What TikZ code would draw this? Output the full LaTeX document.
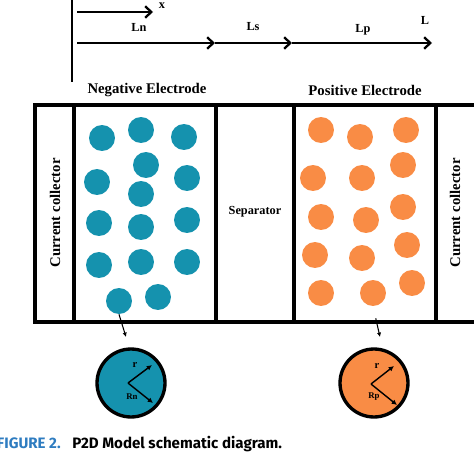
\documentclass[tikz,border=0pt]{standalone}
\usepackage{fontspec}
\setmainfont{Liberation Serif}
\newfontfamily\capfont{Fira Sans}
\usetikzlibrary{positioning,calc,arrows.meta}
\definecolor{negcol}{HTML}{1592AE}
\definecolor{poscol}{HTML}{F98C45}
\definecolor{capblue}{HTML}{2E7CC0}
\begin{document}
\begin{tikzpicture}[
      x=0.02cm, y=-0.02cm,
      axis/.style={-{Straight Barb[length=3.5pt,width=6.5pt]}, line width=1.3pt},
      wall/.style={line width=1.9pt},
      lbl/.style={font=\bfseries\fontsize{7}{8}\selectfont, inner sep=0pt},
      head/.style={font=\bfseries\fontsize{8.4}{10}\selectfont, inner sep=0pt},
      negp/.style={circle, fill=negcol, minimum size=0.52cm, inner sep=0pt},
      posp/.style={circle, fill=poscol, minimum size=0.52cm, inner sep=0pt},
      bigp/.style={circle, draw, line width=1.9pt, minimum size=1.36cm, inner sep=0pt},
      radius/.style={-{Latex[length=3pt,width=3pt]}, line width=0.8pt},
      pick/.style={-{Latex[length=2.5pt,width=2.5pt]}, line width=0.6pt}
    ]
    \useasboundingbox (0,0) rectangle (474,453);
    % axis
    \draw[line width=1.3pt] (72,0) -- (72,82);
    \coordinate (xs) at (77,12);
    \coordinate (xe) at (153,12);
    \coordinate (o) at (77,43);
    \coordinate (ln) at (215,43);
    \coordinate (ls) at (292,43);
    \coordinate (lp) at (432,43);
    \draw[axis] (xs) -- (xe);
    \draw[axis] (o) -- (ln);
    \draw[axis] (ln) -- (ls);
    \draw[axis] (ls) -- (lp);
    \node[lbl] (xlab) at (162,6) {x};
    \node[lbl] (lnlab) at (139,27) {Ln};
    \node[lbl] (lslab) at (253,27) {Ls};
    \node[lbl] (lplab) at (363,30) {Lp};
    \node[lbl] (llab) at (425,20) {L};
    \node[head] (neg) at (147,90) {Negative Electrode};
    \node[head] (pos) at (365,90) {Positive Electrode};
    % cell
    \draw[wall] (35,105) rectangle (480,322);
    \foreach \d in {74,216,294,436}
      \draw[wall] (\d,105) -- (\d,322);
    \node[head, rotate=90] (ccl) at (55,213) {Current collector};
    \node[head, rotate=90] (ccr) at (455,213) {Current collector};
    \node[font=\bfseries\fontsize{7}{8}\selectfont, inner sep=0pt] (sep) at (255,212) {Separator};
    % particles
    \foreach \x/\y [count=\i] in {102/138,141/130,184/137,146/165,97/182,187/178,141/194,
        99/223,141/227,187/220,99/265,141/262,187/262,119/301,158/297}
      \node[negp] (n\i) at (\x,\y) {};
    \foreach \x/\y [count=\i] in {321/130,360/137,406/130,313/178,362/178,403/165,321/217,
        366/220,403/207,315/255,362/258,407/245,321/293,373/293,412/283}
      \node[posp] (p\i) at (\x,\y) {};
    % single particles
    \node[bigp, fill=negcol] (bign) at (131,383) {};
    \node[bigp, fill=poscol] (bigp) at (374,383) {};
    \coordinate (na) at (126,337);
    \coordinate (pa) at (380,337);
    \draw[pick] (n14.south) -- (na);
    \draw[pick, shorten <=7pt] (p14.south) -- (pa);
    \coordinate (nc) at (128,383);
    \coordinate (nr) at (152,365);
    \coordinate (nR) at (153,403);
    \draw[radius] (nc) -- (nr);
    \draw[radius] (nc) -- (nR);
    \node[font=\bfseries\fontsize{6}{7}\selectfont, inner sep=0pt] (nrl) at (135,365) {r};
    \node[font=\bfseries\fontsize{5}{6}\selectfont, inner sep=0pt] (nRl) at (132,397) {Rn};
    \coordinate (pc) at (371,384);
    \coordinate (pr) at (394,366);
    \coordinate (pR) at (397,405);
    \draw[radius] (pc) -- (pr);
    \draw[radius] (pc) -- (pR);
    \node[font=\bfseries\fontsize{6}{7}\selectfont, inner sep=0pt] (prl) at (377,366) {r};
    \node[font=\bfseries\fontsize{5}{6}\selectfont, inner sep=0pt] (pRl) at (374,397) {Rp};
    % caption
    \node[font=\capfont\bfseries\fontsize{8.6}{10}\selectfont, anchor=base west, inner sep=0pt] (cap) at (72,448) {P2D Model schematic diagram.};
    \node[font=\capfont\bfseries\fontsize{8.6}{10}\selectfont, text=capblue, anchor=base east, inner sep=0pt] (fig) at (61,448) {FIGURE 2.};
  \end{tikzpicture}
\end{document}
